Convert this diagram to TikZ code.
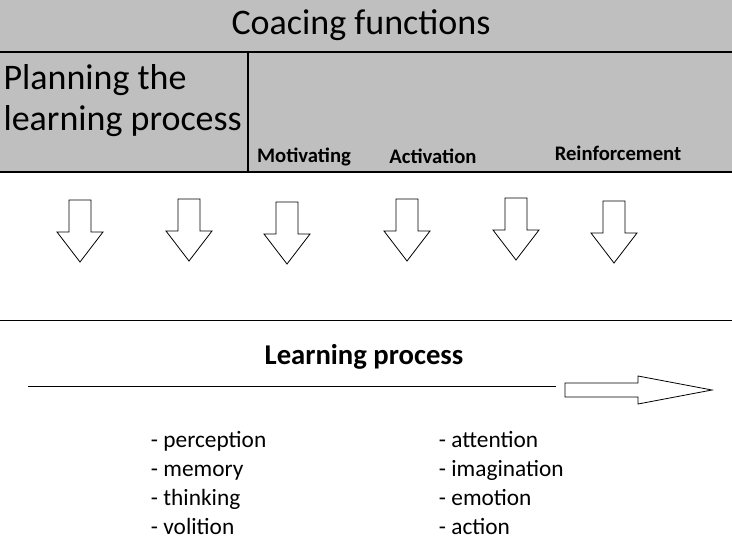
\documentclass[tikz,border=0pt]{standalone}
\usepackage{fontspec}
\setmainfont{Carlito}
\begin{document}
\begin{tikzpicture}[x=0.75pt,y=-0.75pt,line width=0.8pt]
    \tikzstyle{band}=[fill=gray!50!white,draw=none]
    \tikzstyle{func}=[anchor=base,font=\bfseries\fontsize{15.5}{18}\selectfont]
    \tikzstyle{big}=[font=\fontsize{27}{32}\selectfont]
    \tikzstyle{item}=[anchor=base west,font=\fontsize{17.5}{20}\selectfont]
    \tikzstyle{downarrow}=[draw,line width=0.6pt,fill=white]

    \useasboundingbox (0,0) rectangle (732,550);
    \fill[band] (0,0) rectangle (732,172);
    \draw (0,52) -- (732,52);
    \draw (0,172) -- (732,172);
    \draw (248,52) -- (248,172);
    \draw[line width=0.5pt] (0,320) -- (732,320);

    \node[big,anchor=base] (title) at (361,34) {Coacing functions};
    \node[big,anchor=base west,inner sep=0pt] (plan1) at (3,89) {Planning the};
    \node[big,anchor=base west,inner sep=0pt] (plan2) at (3,130) {learning process};
    \node[func] (motiv) at (304,162) {Motivating};
    \node[func] (activ) at (433,163) {Activation};
    \node[func] (reinf) at (618,160) {Reinforcement};

    % down arrows
    \foreach \ax/\ay in {80/200,189/199,287/202,407/199,516/198,614/201}
        \draw[downarrow] (\ax-11,\ay) -- (\ax+11,\ay) -- (\ax+11,\ay+32) -- (\ax+23,\ay+32)
            -- (\ax,\ay+62) -- (\ax-23,\ay+32) -- (\ax-11,\ay+32) -- cycle;

    \node[anchor=base,font=\bfseries\fontsize{21.5}{24}\selectfont] (lp) at (364,364) {Learning process};
    \coordinate (lineA) at (28,386);
    \coordinate (lineB) at (556,386);
    \draw[line width=0.6pt] (lineA) -- (lineB);
    \draw[line width=0.6pt] (565,383) -- (638,383) -- (638,376) -- (712,390) -- (638,404)
        -- (638,397) -- (565,397) -- cycle;

    \node[item] (perc) at (146,447) {- perception};
    \node[item] (mem) at (146,476) {- memory};
    \node[item] (think) at (146,505) {- thinking};
    \node[item] (vol) at (146,534) {- volition};
    \node[item] (att) at (434,447) {- attention};
    \node[item] (imag) at (434,476) {- imagination};
    \node[item] (emo) at (434,505) {- emotion};
    \node[item] (act) at (434,534) {- action};
\end{tikzpicture}
\end{document}
